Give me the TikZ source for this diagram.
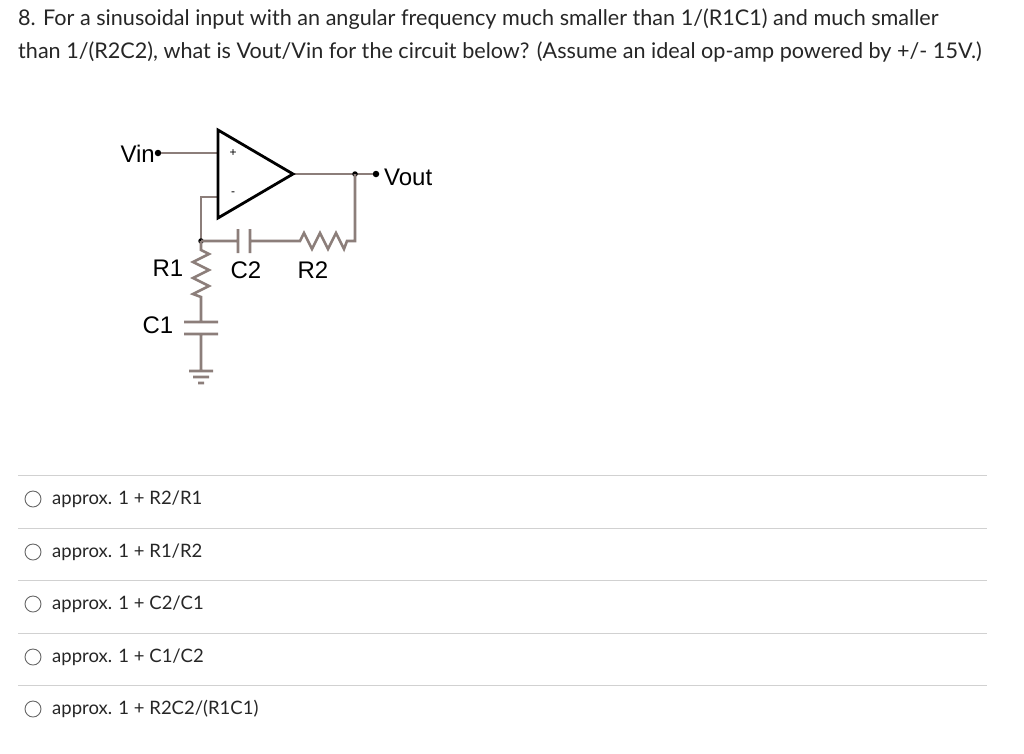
\documentclass[tikz,border=0pt]{standalone}
\usepackage{fontspec}
\setmainfont{Lato}
\newfontfamily\cirfont{Liberation Sans}
\begin{document}
\begin{tikzpicture}[x=1pt,y=-1pt,
  wire/.style={draw=wirec,line width=2.6pt},
  q/.style={anchor=west,inner sep=0,font=\fontsize{21.6}{24}\selectfont,text=black!85},
  opt/.style={anchor=west,inner sep=0,font=\fontsize{18.5}{21}\selectfont,text=black!85},
  lbl/.style={inner sep=0,font=\cirfont\fontsize{24}{26}\selectfont},
  dot/.style={circle,fill=black,inner sep=0,minimum size=6.5pt},
  radio/.style={circle,draw=black!60,line width=0.9pt,inner sep=0,minimum size=16pt},
  sep/.style={draw=black!18,line width=0.9pt}]
\definecolor{wirec}{RGB}{140,126,122}
\useasboundingbox (0,0) rectangle (1024,753);
\fill[white] (0,0) rectangle (1024,753);
\node[q] (q1) at (18,19) {8. For a sinusoidal input with an angular frequency much smaller than 1/(R1C1) and much smaller};
\node[q] (q2) at (18,52) {than 1/(R2C2), what is Vout/Vin for the circuit below? (Assume an ideal op-amp powered by +/- 15V.)};
% circuit
\coordinate (pin) at (218,153);
\coordinate (nin) at (218,197);
\coordinate (out) at (293,174);
\coordinate (jo) at (355,174);
\coordinate (jn) at (201,241);
\node[dot] (vind) at (158,153) {};
\node[lbl,anchor=east] (vin) at (155,154) {Vin};
\node[dot] (voutd) at (376,174) {};
\node[lbl,anchor=west] (vout) at (384,177) {Vout};
\draw[wire] (vind) -- (pin);
\draw[wire] (nin) -- (201,197) -- (jn);
\draw[wire] (out) -- (voutd);
\node[dot,minimum size=5.5pt] (jod) at (jo) {};
\node[dot,minimum size=5.5pt] (jnd) at (jn) {};
% C2 and R2
\draw[wire] (jn) -- (238,241) (238,229) -- (238,253) (250,229) -- (250,253) (250,241) -- (300,241)
  -- (304,233) -- (312,249) -- (320,233) -- (328,249) -- (336,233) -- (344,249) -- (347,241) -- (355,241) -- (jo);
% R1 and C1
\draw[wire] (jn) -- (201,250) -- (209,254) -- (193,262) -- (209,270) -- (193,278) -- (209,286) -- (193,294) -- (201,297)
  -- (201,322) (184,322) -- (218,322) (184,334) -- (218,334) (201,334) -- (201,371)
  (189,371) -- (213,371) (193,377) -- (209,377) (198,383) -- (204,383);
% op amp
\draw[black,line width=2.8pt,line join=miter] (218,130) -- (218,218) -- (293,174) -- cycle;
\node[font=\cirfont\fontsize{12}{13}\selectfont] (plus) at (233,153) {+};
\node[font=\cirfont\fontsize{12}{13}\selectfont] (minus) at (233,194) {-};
\node[lbl] (r1) at (168,268) {R1};
\node[lbl] (c2) at (246,270) {C2};
\node[lbl] (r2) at (313,270) {R2};
\node[lbl] (c1) at (158,325) {C1};
% options
\foreach \y/\t [count=\i] in {499/{approx. 1 + R2/R1},552/{approx. 1 + R1/R2},604/{approx. 1 + C2/C1},657/{approx. 1 + C1/C2},709/{approx. 1 + R2C2/(R1C1)}}{
  \draw[sep] (18,\y-24) -- (987,\y-24);
  \node[radio] (r\i) at (33,\y) {};
  \node[opt] (o\i) at (52,\y) {\t};
}
\end{tikzpicture}
\end{document}
